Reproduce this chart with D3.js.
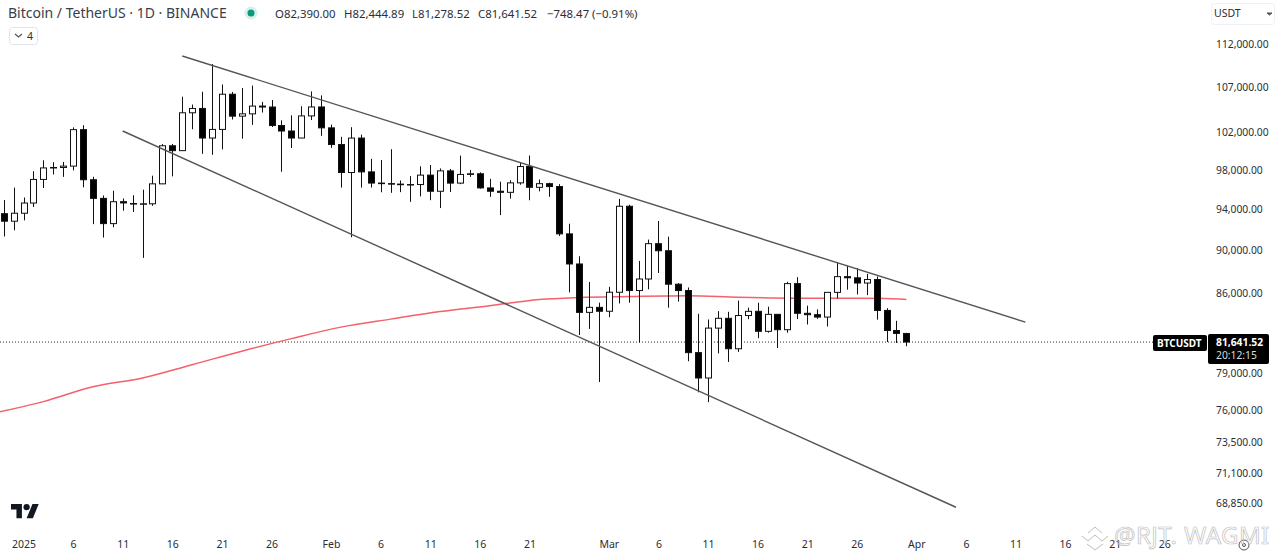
<!DOCTYPE html>
<html>
<head>
<meta charset="utf-8">
<style>
html, body { margin: 0; background: #fff; }
svg { display: block; }
text { font-family: "Noto Sans", sans-serif; fill: #2a2e39; }
</style>
<script src="https://cdn.jsdelivr.net/npm/d3@7"></script>
</head>
<body>
<svg id="chart" width="1280" height="558"></svg>
<script>
// daily candles, 30 Dec 2024 to 31 Mar 2025
var firstDay = "2024-12-30";

var opens = [93530,92790,93576,94591,96984,98174,98220,98363,102235,96954,95060,92553,94726,94545,94488,94516,96534,100505,99987,104078,104556,101331,102260,106144,103706,103960,104819,104714,102682,102087,101332,103733,104722,102429,100635,97700,101328,97763,96612,96554,96506,96444,96462,97430,95778,97868,96608,97500,97569,96118,95780,95671,96632,98319,96181,96551,96258,91552,88680,84250,84700,84350,86064,94270,86221,87281,90606,89931,86801,86222,80734,78595,82857,83722,81066,83968,84343,82576,84075,82718,86855,84167,84043,83832,86054,87498,87392,86909,87232,84424,82648,82390];
var highs = [94900,96150,95150,97839,98976,98778,98800,102480,102724,97258,95350,95836,95050,95378,95940,97371,100681,100700,105865,104988,106422,109588,107240,106394,106850,107120,105286,105500,103250,103800,104800,106457,106012,102783,101456,102500,101700,99119,99000,100137,96880,97323,98345,98478,98119,98070,99466,97970,97715,97046,96753,96899,98766,99475,96980,96651,96500,92540,89414,87000,85120,86558,95000,94416,88967,91000,92810,91283,86897,86500,84123,83617,84359,84300,85310,84672,85117,84756,84075,87022,87453,84850,84513,86000,88765,88500,88292,87756,87515,84624,83500,82444.89];
var lows = [91300,91900,92870,94200,96100,97500,97250,97920,96181,92500,91200,92200,93831,93700,89256,94310,96500,97300,99950,102277,99651,99550,100119,103339,101262,102750,104106,102520,97777,100272,101328,103278,101560,100279,96150,91231,96150,96155,95676,95620,95688,94713,95256,94876,94088,95700,96500,97250,96046,95205,93388,95029,96442,94871,95770,95213,91350,86050,82256,82787,78258,83824,85050,85117,81600,86334,87836,84667,85218,80000,77412,76606,80667,79939,80797,83639,81981,82456,81134,82457,83655,83175,83674,83000,85500,86300,85861,85800,83600,81644,81565,81278.52];
var closes = [92790,93576,94591,96984,98174,98220,98363,102235,96954,95060,92553,94726,94599,94488,94516,96534,100505,99987,104077,104556,101331,102260,106143,103706,103960,104819,104714,102682,102087,101332,103733,104722,102429,100635,97700,101328,97763,96612,96554,96506,96444,96462,97430,95778,97869,96608,97500,97569,96118,95780,95671,96632,98319,96181,96551,96258,91552,88680,84250,84700,84350,86064,94270,86220,87281,90606,89931,86801,86222,80734,78595,82858,83722,81066,83969,84343,82579,84075,82718,86854,84167,84043,83832,86054,87498,87392,86909,87232,84424,82648,82390,81641.52];

// 200 day average, read every few days
var maDays = ["2024-12-29","2025-01-03","2025-01-08","2025-01-13","2025-01-18","2025-01-23","2025-01-28","2025-02-02","2025-02-07","2025-02-12","2025-02-17","2025-02-22","2025-02-26","2025-03-03","2025-03-09","2025-03-14","2025-03-20","2025-03-26","2025-03-29","2025-03-31"];
var maValues = [75723,76652,77864,78600,79710,80860,81940,82945,83650,84320,84850,85410,85590,85680,85755,85615,85530,85530,85490,85410];

var priceTicks = [112000,107000,102000,98000,94000,90000,86000,82000,79000,76000,73500,71100,68850];
var timeTicks = ["2025-01-01","2025-01-06","2025-01-11","2025-01-16","2025-01-21","2025-01-26","2025-02-01","2025-02-06","2025-02-11","2025-02-16","2025-02-21","2025-03-01","2025-03-06","2025-03-11","2025-03-16","2025-03-21","2025-03-26","2025-04-01","2025-04-06","2025-04-11","2025-04-16","2025-04-21","2025-04-26"];
var timeLabels = ["2025","6","11","16","21","26","Feb","6","11","16","21","Mar","6","11","16","21","26","Apr","6","11","16","21","26"];

// channel drawn on the chart: [day, price] at each end
var upperLine = [["2025-01-17",110530],["2025-04-12",83385]];
var lowerLine = [["2025-01-11",102090],["2025-04-05",68540]];

var lastPrice = closes[closes.length - 1];
var headerParts = [["O82,390.00",275],["H82,444.89",344],["L81,278.52",412],["C81,641.52",478],["\u2212748.47 (\u22120.91%)",547]];

var day = d3.utcParse("%Y-%m-%d");
var svg = d3.select("#chart");

var x = d3.scaleUtc()
	.domain([day("2025-01-01"), day("2025-04-01")])
	.range([23.5, 916.3]);

var y = d3.scaleLog()
	.domain([112000, 68850])
	.range([43.5, 503]);

var candles = closes.map(function(c, i) {
	return { date: d3.utcDay.offset(day(firstDay), i), o: opens[i], h: highs[i], l: lows[i], c: c };
});

// axes
svg.append("g")
	.attr("transform", "translate(0,541)")
	.call(d3.axisBottom(x).tickValues(timeTicks.map(day)).tickSize(0).tickPadding(0)
		.tickFormat(function(d, i) { return timeLabels[i]; }))
	.call(function(g) { g.select(".domain").remove(); })
	.selectAll("text")
	.style("font-size", "10.5px")
	.style("font-family", '"Noto Sans", sans-serif')
	.style("fill", "#2a2e39");

svg.append("g")
	.attr("transform", "translate(1216,0.5)")
	.call(d3.axisRight(y).tickValues(priceTicks).tickSize(0).tickPadding(0).tickFormat(d3.format(",.2f")))
	.call(function(g) { g.select(".domain").remove(); })
	.selectAll("text")
	.style("font-size", "10.3px")
	.style("font-family", '"Noto Sans", sans-serif')
	.style("fill", "#2a2e39");

// last price line
svg.append("line")
	.attr("x1", 0).attr("x2", 1153)
	.attr("y1", y(lastPrice)).attr("y2", y(lastPrice))
	.attr("stroke", "#333")
	.attr("stroke-dasharray", "1 2");

// average
var maLine = d3.line()
	.curve(d3.curveMonotoneX)
	.x(function(d, i) { return x(day(maDays[i])); })
	.y(function(d) { return y(d); });

svg.append("path")
	.datum(maValues)
	.attr("d", maLine)
	.attr("fill", "none")
	.attr("stroke", "#f4606b")
	.attr("stroke-width", 1.5);

// candles
var candle = svg.append("g").selectAll("g")
	.data(candles)
	.join("g");

candle.append("line")
	.attr("x1", function(d) { return Math.round(x(d.date)) + 0.5; })
	.attr("x2", function(d) { return Math.round(x(d.date)) + 0.5; })
	.attr("y1", function(d) { return y(d.h); })
	.attr("y2", function(d) { return y(d.l); })
	.attr("stroke", "#111");

candle.append("rect")
	.attr("x", function(d) { return Math.round(x(d.date)) - 2.5; })
	.attr("width", 6)
	.attr("y", function(d) { return y(Math.max(d.o, d.c)); })
	.attr("height", function(d) { return Math.max(0.5, y(Math.min(d.o, d.c)) - y(Math.max(d.o, d.c))); })
	.attr("fill", function(d) { return d.c >= d.o ? "#fff" : "#000"; })
	.attr("stroke", "#111");

// channel
[upperLine, lowerLine].forEach(function(pts) {
	svg.append("line")
		.attr("x1", x(day(pts[0][0]))).attr("y1", y(pts[0][1]))
		.attr("x2", x(day(pts[1][0]))).attr("y2", y(pts[1][1]))
		.attr("stroke", "#555")
		.attr("stroke-width", 1.4);
});

// header
svg.append("text").attr("x", 8).attr("y", 18).style("font-size", "14px").style("fill", "#3a3e49")
	.text("Bitcoin / TetherUS \u00b7 1D \u00b7 BINANCE");
svg.append("circle").attr("cx", 251).attr("cy", 13).attr("r", 6.5).attr("fill", "#d8efeb");
svg.append("circle").attr("cx", 251).attr("cy", 13).attr("r", 3.5).attr("fill", "#089981");
headerParts.forEach(function(p) {
	svg.append("text").attr("x", p[1]).attr("y", 18).style("font-size", "11.4px").text(p[0]);
});

// indicators button
svg.append("rect").attr("x", 9.5).attr("y", 27.5).attr("width", 28).attr("height", 17).attr("rx", 3)
	.attr("fill", "#fff").attr("stroke", "#e0e3eb");
svg.append("path").attr("d", "M15 34l3.5 3 3.5-3").attr("fill", "none").attr("stroke", "#50535e").attr("stroke-width", 1.2);
svg.append("text").attr("x", 27).attr("y", 40).style("font-size", "10.5px").text("4");

// currency button
svg.append("rect").attr("x", 1211.5).attr("y", 3.5).attr("width", 63).attr("height", 21).attr("rx", 3)
	.attr("fill", "#fff").attr("stroke", "#eef0f3");
svg.append("text").attr("x", 1214).attr("y", 17).style("font-size", "10.5px").text("USDT");
svg.append("path").attr("d", "M1267 13l2.5 2 2.5-2z").attr("fill", "#50535e").attr("stroke", "#50535e");

// last price labels
svg.append("rect").attr("x", 1153).attr("y", 335).attr("width", 54).attr("height", 16).attr("rx", 2).attr("fill", "#000");
svg.append("text").attr("x", 1157).attr("y", 347).style("font-size", "10px").style("font-weight", 700).style("fill", "#fff").text("BTCUSDT");
svg.append("rect").attr("x", 1208).attr("y", 334).attr("width", 61).attr("height", 30).attr("rx", 2).attr("fill", "#000");
svg.append("text").attr("x", 1216).attr("y", 346).style("font-size", "10.3px").style("font-weight", 700).style("fill", "#fff").text("81,641.52");
svg.append("text").attr("x", 1216).attr("y", 359).style("font-size", "10.3px").style("fill", "#ddd").text("20:12:15");

// logo
svg.append("g").attr("transform", "translate(11,501) scale(0.78)")
	.call(function(g) {
		g.append("path").attr("d", "M14 22H7V11H0V4h14v18zM28 22h-8l7.5-18h8L28 22z").attr("fill", "#131722");
		g.append("circle").attr("cx", 20).attr("cy", 8).attr("r", 4).attr("fill", "#131722");
	});

// settings icon
svg.append("circle").attr("cx", 1244).attr("cy", 545).attr("r", 5).attr("fill", "none").attr("stroke", "#50535e");
svg.append("circle").attr("cx", 1244).attr("cy", 545).attr("r", 1.5).attr("fill", "none").attr("stroke", "#50535e");

// watermark
svg.append("path")
	.attr("d", "M1088 533l7-6 7 6 M1082 536l6 5 7-6 7 6 6-5 M1087 544l8 6 8-6")
	.attr("fill", "none").attr("stroke", "#bdbdbd");
svg.append("text").attr("x", 1114).attr("y", 544)
	.style("font-size", "24px").style("letter-spacing", "0.4px").style("fill", "none").style("stroke", "#c0c0c0").style("stroke-width", 0.7)
	.text("@RJT. WAGMI");
</script>
</body>
</html>
